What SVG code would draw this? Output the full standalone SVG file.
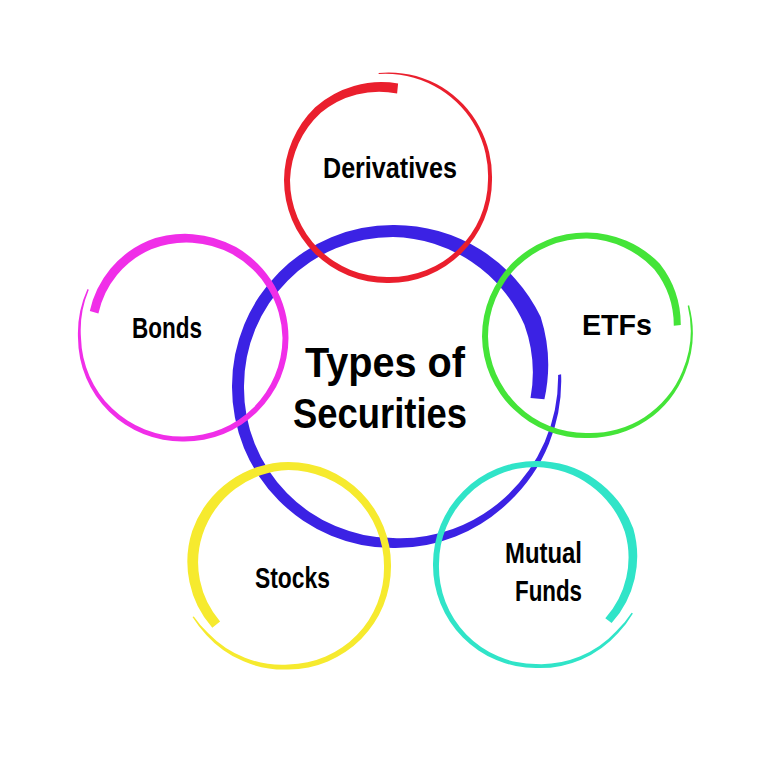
<svg xmlns="http://www.w3.org/2000/svg" width="768" height="768" viewBox="0 0 768 768">
<style>
text{font-family:"Liberation Sans",Arial,sans-serif;fill:#000;font-weight:bold;}
.lbl{font-size:29px;}
.ttl{font-size:43px;}
</style>
<rect width="768" height="768" fill="#ffffff"/>
<g id="center">
<path fill="#3b22e4" d="M 544.4 399.3 A 158 158 0 0 0 540.7 317.1 A 162 162 0 0 0 393 225 A 161 161 0 0 0 232 386 A 161 161 0 0 0 393 548 A 163 163 0 0 0 509 502 A 166 166 0 0 0 561.1 374.2 L 558.1 375 A 162 162 0 0 1 504.7 497.7 A 155 155 0 0 1 393 538 A 150 150 0 0 1 244 386 A 149 149 0 0 1 393 237 A 147 147 0 0 1 524.4 324.7 A 141 141 0 0 1 530.5 398 Z"/>
<text class="ttl" x="305" y="377" textLength="160" lengthAdjust="spacingAndGlyphs">Types of</text>
<text class="ttl" x="293" y="428" textLength="174" lengthAdjust="spacingAndGlyphs">Securities</text>
</g>
<g id="derivatives">
<path fill="#ea1f2d" d="M 398.1 83.5 A 100 100 0 0 0 315.2 107.2 A 103 103 0 0 0 284 180 A 103 103 0 0 0 388 283 A 103 103 0 0 0 492 180 A 106 106 0 0 0 441.8 86.9 A 107 107 0 0 0 378.6 72.9 L 378.7 73.9 A 105 105 0 0 1 440.3 89.5 A 102 102 0 0 1 488 180 A 98 98 0 0 1 388 277 A 97 97 0 0 1 290 180 A 96 96 0 0 1 320.8 112.8 A 91 91 0 0 1 397.1 93.5 Z"/>
<text class="lbl" x="323" y="178" textLength="134" lengthAdjust="spacingAndGlyphs">Derivatives</text>
</g>
<g id="bonds">
<path fill="#f02ee8" d="M 89.8 311.1 A 100 100 0 0 1 148.1 240.7 A 104 104 0 0 1 236 247.1 A 105 105 0 0 1 288.5 338 A 104 104 0 0 1 183.5 441.5 A 104 104 0 0 1 78 338 A 107 107 0 0 1 87.5 289.1 L 88.8 289.8 A 105 105 0 0 0 81 338 A 101 101 0 0 0 183.5 436.5 A 99 99 0 0 0 282.5 338 A 98 98 0 0 0 232 254 A 96 96 0 0 0 151.2 249.2 A 91 91 0 0 0 98.4 313.6 Z"/>
<text class="lbl" x="132" y="338" textLength="70" lengthAdjust="spacingAndGlyphs">Bonds</text>
</g>
<g id="etfs">
<path fill="#44e438" d="M 680.8 325 A 99 99 0 0 0 659.8 263.7 A 103 103 0 0 0 587 232.5 A 104 104 0 0 0 482 336.5 A 103 103 0 0 0 587 438 A 103 103 0 0 0 685.2 372.2 A 106 106 0 0 0 689.1 305.3 L 687.7 305.7 A 104 104 0 0 1 682.4 371.2 A 99 99 0 0 1 587 433 A 98 98 0 0 1 488 336.5 A 98 98 0 0 1 587 238.5 A 96 96 0 0 1 654.2 269.3 A 91 91 0 0 1 673.8 325.8 Z"/>
<text class="lbl" x="582" y="335" textLength="70" lengthAdjust="spacingAndGlyphs">ETFs</text>
</g>
<g id="stocks">
<path fill="#f6ea2e" d="M 212.3 627.7 A 100 100 0 0 1 192.2 530.9 A 103 103 0 0 1 288.5 462 A 103 103 0 0 1 391 566 A 103 103 0 0 1 288.5 669.5 A 105 105 0 0 1 206.3 634.9 A 108 108 0 0 1 192.5 617.1 L 193.8 616.4 A 106 106 0 0 0 208.3 633.3 A 102 102 0 0 0 288.5 664.5 A 97 97 0 0 0 384 566 A 96 96 0 0 0 288.5 470 A 94 94 0 0 0 202.5 534.7 A 90 90 0 0 0 220.1 621.4 Z"/>
<text class="lbl" x="255" y="588" textLength="75" lengthAdjust="spacingAndGlyphs">Stocks</text>
</g>
<g id="mutual-funds">
<path fill="#30e4c8" d="M 611.6 623.1 A 100 100 0 0 0 633.3 528.6 A 103 103 0 0 0 536 461 A 103 103 0 0 0 433 564 A 103 103 0 0 0 536 668 A 105 105 0 0 0 618.2 632.9 A 108 108 0 0 0 632.9 613.4 L 631.6 612.7 A 106 106 0 0 1 616.2 631.3 A 102 102 0 0 1 536 664 A 97 97 0 0 1 439 564 A 97 97 0 0 1 536 467 A 96 96 0 0 1 624.8 531.7 A 91 91 0 0 1 605.3 618.2 Z"/>
<text class="lbl" x="505" y="563" textLength="77" lengthAdjust="spacingAndGlyphs">Mutual</text>
<text class="lbl" x="515" y="601" textLength="67" lengthAdjust="spacingAndGlyphs">Funds</text>
</g>
</svg>
